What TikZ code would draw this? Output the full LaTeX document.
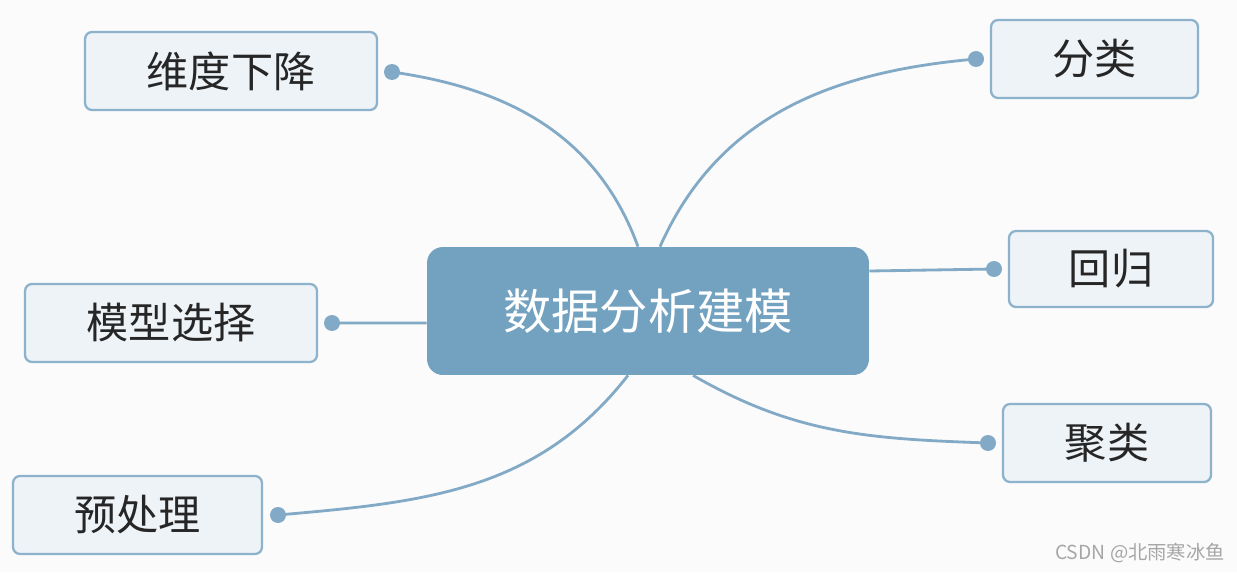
\documentclass[tikz,border=0pt]{standalone}
\usepackage{fontspec}
\setmainfont{Noto Sans CJK SC}
\usepackage{xcolor}
\usepackage{tikz}
\usetikzlibrary{positioning}

\definecolor{hubblue}{HTML}{73A2C1}
\definecolor{linkblue}{HTML}{82AAC6}
\definecolor{leafbg}{HTML}{EEF3F7}
\definecolor{leafline}{HTML}{8DB2CB}
\definecolor{pagebg}{HTML}{FBFBFC}

\begin{document}
\begin{tikzpicture}[
  x=0.02cm, y=0.02cm,
  leaf/.style={draw=leafline, fill=leafbg, line width=1.3pt,
               rounded corners=4pt, minimum height=1.56cm,
               font=\fontsize{24}{28}\selectfont, text=black!85},
  hub/.style ={fill=hubblue, rounded corners=9pt, text=white,
               minimum width=8.84cm, minimum height=2.56cm,
               font=\fontsize{27.5}{32}\selectfont},
  knob/.style={circle, fill=linkblue, inner sep=0pt, minimum size=0.32cm},
  link/.style={linkblue, line width=1.6pt},
]

  % === Page ===
  \fill[pagebg] (0,0) rectangle (1237,572);
  \useasboundingbox (0,0) rectangle (1237,572);

  % === Centre ===
  \node[hub] (hub) at (648,261) {数据分析建模};

  % === Leaves ===
  \node[leaf, minimum width=5.84cm] (dimred) at (231,501) {维度下降};
  \node[leaf, minimum width=5.84cm] (modsel) at (171,249) {模型选择};
  \node[leaf, minimum width=4.98cm] (prep)   at (137.5,57) {预处理};
  \node[leaf, minimum width=4.14cm] (classif) at (1094.5,513) {分类};
  \node[leaf, minimum width=4.08cm, minimum height=1.52cm] (regr)
    at (1111,303) {回归};
  \node[leaf, minimum width=4.16cm] (clust)  at (1107,129) {聚类};

  % === Knobs ===
  \node[knob] (kdimred)  at (392,500) {};
  \node[knob] (kmodsel)  at (332,249) {};
  \node[knob] (kprep)    at (278,57)  {};
  \node[knob] (kclassif) at (976,513) {};
  \node[knob] (kregr)    at (994,303) {};
  \node[knob] (kclust)   at (988,129) {};

  % === Links ===
  \draw[link] ([xshift=-0.2cm]hub.north) to[out=110, in=-8] (kdimred.center);
  \draw[link] ([xshift=0.24cm]hub.north) to[out=66, in=185] (kclassif.center);
  \draw[link] ([yshift=0.8cm]hub.east) -- (kregr.center);
  \draw[link] ([xshift=0.9cm]hub.south) to[out=-30, in=178] (kclust.center);
  \draw[link] ([yshift=-0.24cm]hub.west) -- (kmodsel.center);
  \draw[link] ([xshift=-0.4cm]hub.south) to[out=-128, in=5] (kprep.center);

  % watermark
  \node[font=\fontsize{11}{13}\selectfont, text=gray!70] (mark)
    at (1140,19) {CSDN @北雨寒冰鱼};

\end{tikzpicture}
\end{document}
